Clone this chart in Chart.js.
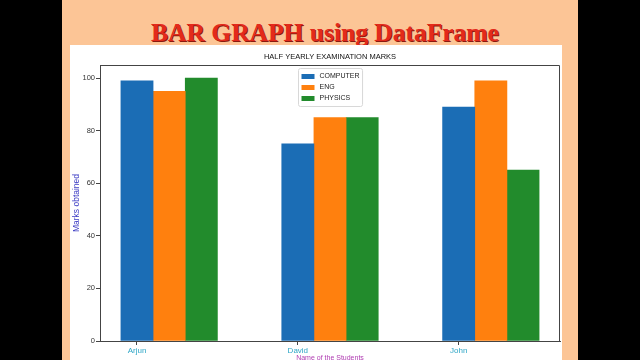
<!DOCTYPE html>
<html>
<head>
<meta charset="utf-8">
<title>BAR GRAPH using DataFrame</title>
<script src="https://cdn.jsdelivr.net/npm/chart.js@4.4.0/dist/chart.umd.min.js"></script>
<style>
    html, body { margin: 0; padding: 0; width: 640px; height: 360px; overflow: hidden; background: #000; }
    .slide { position: absolute; left: 62px; top: 0; width: 516px; height: 360px; background: #fcc596; }
    .slide h1 {
        position: absolute; left: 5px; top: 18px; width: 516px; margin: 0;
        text-align: center; line-height: 1;
        font: bold 25.5px "Liberation Serif", "DejaVu Serif", serif;
        color: #e32a1b; text-shadow: 1px 1px 0 #8a1a0f;
    }
    .paper { position: absolute; left: 8px; top: 45px; width: 492px; height: 330px; background: #fff; }
</style>
</head>
<body>
<div class="slide">
    <h1>BAR GRAPH using DataFrame</h1>
    <div class="paper"><canvas id="marksChart" width="492" height="330"></canvas></div>
</div>

<script>
// ==========================================
// DATA
// ==========================================
const students = ['Arjun', 'David', 'John'];
const subjects = ['COMPUTER', 'ENG', 'PHYSICS'];
const computerMarks = [99, 75, 89];
const engMarks = [95, 85, 99];
const physicsMarks = [100, 85, 65];
const yTicks = [0, 20, 40, 60, 80, 100];

const subjectColors = ['#1b6db5', '#ff800e', '#228b2c'];
const barStep = 0.2; // pandas-style offset between bars of one student

document.addEventListener("DOMContentLoaded", () => {

    const fontFamily = '"Liberation Sans", "DejaVu Sans", sans-serif';
    const smallFont = { family: fontFamily, size: 7.5 };

    // build one dataset per subject, bars shifted right of the student tick
    const datasets = [computerMarks, engMarks, physicsMarks].map((marks, s) => ({
        label: subjects[s],
        data: students.map((_, i) => ({ x: i + s * barStep, y: marks[i] })),
        backgroundColor: subjectColors[s],
        borderWidth: 0,
        barPercentage: 1,
        categoryPercentage: 1,
        grouped: false
    }));

    // ==========================================
    // matplotlib-ish frame + legend in upper centre
    // ==========================================
    const framePlugin = {
        id: 'frame',
        afterDraw(chart) {
            const { ctx, chartArea: a } = chart;
            ctx.save();
            ctx.strokeStyle = '#444';
            ctx.lineWidth = 1;
            ctx.beginPath();
            ctx.moveTo(a.left, Math.round(a.top) + 0.5);
            ctx.lineTo(Math.round(a.right) - 0.5, Math.round(a.top) + 0.5);
            ctx.lineTo(Math.round(a.right) - 0.5, a.bottom);
            ctx.stroke();

            // legend box
            ctx.font = '7px ' + fontFamily;
            const textW = Math.max(...subjects.map(t => ctx.measureText(t).width));
            const patchW = 13, gap = 5, pad = 2, rowH = 11;
            const boxW = pad * 2 + patchW + gap + textW + 2;
            const boxH = pad * 2 + rowH * subjects.length + 1;
            const bx = Math.round((a.left + a.right) / 2 - boxW / 2) + 0.5;
            const by = Math.round(a.top + 3) + 0.5;
            ctx.fillStyle = 'rgba(255,255,255,0.85)';
            ctx.strokeStyle = '#d8d8d8';
            ctx.beginPath();
            ctx.roundRect(bx, by, boxW, boxH, 2);
            ctx.fill();
            ctx.stroke();
            ctx.textBaseline = 'middle';
            subjects.forEach((name, s) => {
                const cy = by + pad + 6 + s * rowH;
                ctx.fillStyle = subjectColors[s];
                ctx.fillRect(bx + pad + 1, cy - 2.5, patchW, 5);
                ctx.fillStyle = '#222';
                ctx.fillText(name, bx + pad + 1 + patchW + gap, cy);
            });
            ctx.restore();
        }
    };

    // ==========================================
    // CHART.JS INITIALIZATION
    // ==========================================
    const ctx = document.getElementById('marksChart').getContext('2d');
    new Chart(ctx, {
        type: 'bar',
        data: { datasets: datasets },
        options: {
            responsive: false,
            animation: false,
            events: [],
            layout: { padding: { left: 0, right: 2, top: 0, bottom: 0 } },
            plugins: {
                legend: { display: false },
                tooltip: { enabled: false },
                title: {
                    display: true,
                    fullSize: false,
                    text: 'HALF YEARLY EXAMINATION MARKS',
                    color: '#111',
                    font: { family: fontFamily, size: 7.5, weight: 'normal' },
                    padding: { top: 7, bottom: 4 }
                }
            },
            scales: {
                x: {
                    type: 'linear',
                    offset: false,
                    min: -0.23,
                    max: 2.63,
                    afterBuildTicks: scale => { scale.ticks = students.map((_, i) => ({ value: i })); },
                    afterFit: scale => { scale.height = 34; },
                    ticks: {
                        color: '#2ea6c6',
                        font: { family: fontFamily, size: 8 },
                        padding: 1,
                        maxRotation: 0,
                        callback: value => students[value]
                    },
                    grid: { offset: false, drawOnChartArea: false, drawTicks: true, tickLength: 4, color: '#444' },
                    border: { display: true, color: '#444' },
                    title: {
                        display: true,
                        text: 'Name of the Students',
                        color: '#b03cb2',
                        font: { family: fontFamily, size: 7 },
                        padding: { top: 0, bottom: 13 }
                    }
                },
                y: {
                    min: 0,
                    max: 105,
                    afterBuildTicks: scale => { scale.ticks = yTicks.map(v => ({ value: v })); },
                    afterFit: scale => { scale.width = 30; },
                    ticks: { color: '#333', font: smallFont, padding: 1 },
                    grid: { drawOnChartArea: false, drawTicks: true, tickLength: 4, color: '#444' },
                    border: { display: true, color: '#444' },
                    title: {
                        display: true,
                        text: 'Marks obtained',
                        color: '#3c3cc4',
                        font: { family: fontFamily, size: 8.5, weight: 'normal' },
                        padding: { top: 2, bottom: 0 }
                    }
                }
            }
        },
        plugins: [framePlugin]
    });
});
</script>
</body>
</html>
